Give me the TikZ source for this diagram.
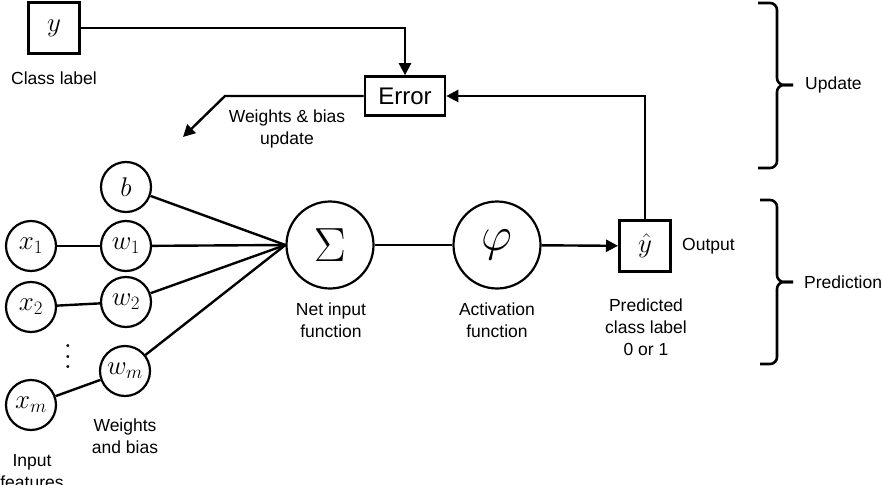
\RequirePackage{fix-cm}
\documentclass[tikz,border=0pt]{standalone}
\usepackage{fontspec}
\setmainfont{Liberation Sans}
\usetikzlibrary{arrows.meta}

\begin{document}
\begin{tikzpicture}[x=1pt,y=-1pt,
  neuron/.style={draw,circle,line width=2.2pt,minimum size=50pt,inner sep=0pt,font=\fontsize{27}{27}\selectfont},
  bigneuron/.style={draw,circle,line width=2.2pt,minimum size=87pt,inner sep=0pt,font=\fontsize{48}{48}\selectfont},
  unitbox/.style={draw,line width=3pt,minimum size=51pt,inner sep=0pt,font=\fontsize{27}{27}\selectfont},
  errbox/.style={draw,line width=2.6pt,minimum width=80pt,minimum height=39pt,inner sep=0pt,font=\fontsize{24}{24}\selectfont},
  lbl/.style={align=center,inner sep=0pt,font=\fontsize{17.5}{22}\selectfont},
  conn/.style={line width=2.4pt},
  arr/.style={conn,-{Triangle[length=12pt,width=12pt]}},
  brace/.style={line width=2.6pt,rounded corners=7pt}]
\useasboundingbox (0,0) rectangle (882,484);

\node[unitbox] (y) at (54,28) {$y$};
\node[lbl] (ylbl) at (54,78) {Class label};
\node[errbox] (err) at (405,96) {Error};
\node[lbl] (updlbl) at (287,129) {Weights \& bias\\update};

\node[neuron] (b) at (126,187) {$b$};
\node[neuron] (x1) at (31,246) {$x_1$};
\node[neuron] (w1) at (126,246) {$w_1$};
\node[neuron] (x2) at (31,307) {$x_2$};
\node[neuron] (w2) at (126,302) {$w_2$};
\node[align=center,inner sep=0pt,font=\fontsize{30}{10.5}\selectfont] (dots) at (68,357) {$.$\\$.$\\$.$};
\node[neuron] (wm) at (125,371) {$w_m$};
\node[neuron] (xm) at (31,405) {$x_m$};
\node[lbl] (wlbl) at (125,436) {Weights\\and bias};
\node[lbl] (xlbl) at (32,472) {Input\\features};

\node[bigneuron] (sum) at (330,245) {$\Sigma$};
\node[lbl] (sumlbl) at (331,320) {Net input\\function};
\node[bigneuron] (act) at (497,245) {$\varphi$};
\node[lbl] (actlbl) at (497,320) {Activation\\function};
\node[unitbox] (yhat) at (645,246) {$\hat{y}$};
\node[lbl,anchor=west] (outlbl) at (682,246) {Output};
\node[lbl] (predlbl) at (646,327) {Predicted\\class label\\0 or 1};

\coordinate (bend) at (225,96);
\coordinate (wtip) at (183,137);

\draw[conn] (x1) -- (w1);
\draw[conn] (x2) -- (w2);
\draw[conn] (xm) -- (wm);
\draw[conn] (b) -- (sum.west);
\draw[conn] (w1) -- (sum.west);
\draw[conn] (w2) -- (sum.west);
\draw[conn] (wm) -- (sum.west);
\draw[conn] (sum) -- (act);
\draw[arr] (act) -- (yhat);
\draw[arr] (y) -| (err);
\draw[arr] (yhat) |- (err);
\draw[arr] (err) -- (bend) -- (wtip);

\draw[brace] (758,3) -| (777,85) -- (793,85);
\draw[brace] (758,168) -| (777,85) -- (793,85);
\node[lbl,anchor=west] (updbr) at (805,85) {Update};
\draw[brace] (760,200) -| (777,282) -- (793,282);
\draw[brace] (760,364) -| (777,282) -- (793,282);
\node[lbl,anchor=west] (predbr) at (804,282) {Prediction};
\end{tikzpicture}
\end{document}
